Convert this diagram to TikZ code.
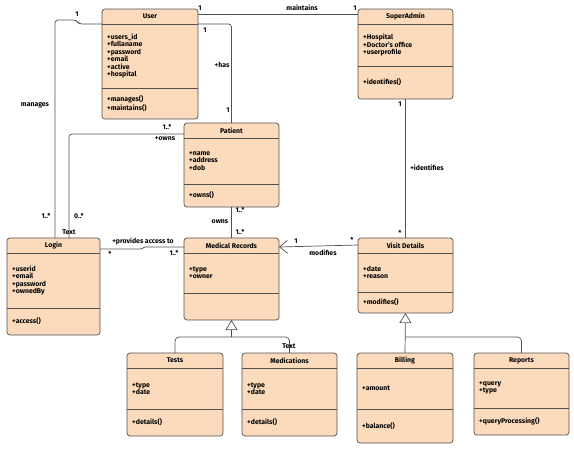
\documentclass[tikz,border=0pt]{standalone}
\usepackage{fontspec}
\setmainfont{Fira Sans}
\usetikzlibrary{arrows.meta}

\definecolor{peach}{RGB}{252,219,188}
\definecolor{edgegray}{RGB}{80,80,80}

\tikzset{
  classbox/.style={draw=edgegray, fill=peach, rounded corners=3pt, line width=0.7pt, inner sep=0pt, outer sep=0pt},
  classrule/.style={draw=edgegray, line width=0.7pt},
  classname/.style={font=\fontsize{6.9}{7.4}\selectfont\bfseries, inner sep=0pt},
  members/.style={font=\fontsize{6.9}{7.4}\selectfont\bfseries, align=left, anchor=west, inner sep=0pt, xshift=5pt},
  assoc/.style={draw=edgegray, line width=0.7pt},
  lbl/.style={font=\fontsize{6.9}{7.4}\selectfont\bfseries, inner sep=0pt},
  gen/.style={assoc, -{Triangle[open, length=10pt, width=12pt, fill=white]}},
  nav/.style={assoc, -{Straight Barb[length=8pt, width=13pt]}}
}

% #1 name, #2 top left, #3 width, #4 height, #5 second rule, #6 title, #7 attributes, #8 operations
\newcommand{\umlclass}[8]{%
  \node[classbox, minimum width=#3, minimum height=#4, anchor=north west] (#1) at (#2) {};
  \draw[classrule] ([yshift=-15pt]#1.north west) -- ([yshift=-15pt]#1.north east);
  \draw[classrule] ([yshift=-#5pt]#1.north west) -- ([yshift=-#5pt]#1.north east);
  \node[classname] (#1-name) at ([yshift=-7.5pt]#1.north) {#6};
  \path ([yshift=-15pt]#1.north west) -- ([yshift=-#5pt]#1.north west) node[midway, members] (#1-attr) {#7};
  \path ([yshift=-#5pt]#1.north west) -- (#1.south west) node[midway, members] (#1-ops) {#8};
}

\begin{document}
\begin{tikzpicture}[x=1pt, y=-1pt]
  \useasboundingbox (0,0) rectangle (574,448);

  % classes
  \umlclass{user}{102,9}{96}{110}{79}{User}
    {+users\_id\\+fullaname\\+password\\+email\\+active\\+hospital}{+manages()\\+maintains()}
  \umlclass{superadmin}{358,9}{95}{90}{57}{SuperAdmin}
    {+Hospital\\+Doctor's office\\+userprofile}{+identifies()}
  \umlclass{patient}{184,123}{95}{84}{61}{Patient}
    {+name\\+address\\+dob}{+owns()}
  \umlclass{login}{7,238}{93}{97}{70}{Login}
    {+userid\\+email\\+password\\+ownedBy}{+access()}
  \umlclass{records}{184,238}{95}{82}{55}{Medical Records}
    {+type\\+owner}{}
  \umlclass{visit}{358,238}{95}{75}{54}{Visit Details}
    {+date\\+reason}{+modifies()}
  \umlclass{tests}{127,353}{96}{83}{56}{Tests}
    {+type\\+date}{+details()}
  \umlclass{medications}{242,353}{95}{83}{56}{Medications}
    {+type\\+date}{+details()}
  \umlclass{billing}{357,353}{96}{90}{56}{Billing}
    {+amount}{+balance()}
  \umlclass{reports}{474,353}{95}{82}{55}{Reports}
    {+query\\+type}{+queryProcessing()}

  % associations
  \draw[assoc] ([yshift=-5pt]user.north east) -- ([yshift=-5pt]superadmin.north west);
  \draw[assoc, rounded corners=3pt] ([xshift=48pt]login.north west) -- (55,20) -- (76,20) -- (79,24) -- ([yshift=-15pt]user.north west);
  \draw[assoc, rounded corners=3pt] ([yshift=-15pt]user.north east) -| (patient.north);
  \draw[assoc, rounded corners=3pt] ([yshift=-11pt]patient.north west) -| ([xshift=62pt]login.north west);
  \draw[assoc] (patient.south) -- (records.north);
  \draw[assoc] ([yshift=-11pt]login.north east) -- (141,249) -- (145,247) -- ([yshift=-9pt]records.north west);
  \draw[nav] ([yshift=-7pt]visit.north west) -- ([yshift=-9pt]records.north east);
  \draw[assoc] (superadmin.south) -- (visit.north);

  % generalizations
  \draw[assoc, rounded corners=4pt] (tests.north) |- ([yshift=-17pt]records.south) -| (medications.north);
  \draw[gen] ([yshift=-17pt]records.south) -- (records.south);
  \draw[gen] (billing.north) -- (visit.south);
  \draw[assoc, rounded corners=4pt] ([yshift=-24pt]visit.south) -| (reports.north);

  % multiplicities and roles
  \node[lbl] (l1) at (200,8) {1};
  \node[lbl] (l2) at (302,8) {maintains};
  \node[lbl] (l3) at (355,8) {1};
  \node[lbl] (l4) at (77,14) {1};
  \node[lbl] (l5) at (35,105) {manages};
  \node[lbl] (l6) at (46,216) {1..*};
  \node[lbl] (l7) at (205,30) {1};
  \node[lbl] (l8) at (222,65) {+has};
  \node[lbl] (l9) at (228,110) {1};
  \node[lbl] (l10) at (167,127) {1..*};
  \node[lbl] (l11) at (165,139) {+owns};
  \node[lbl] (l12) at (79,216) {0..*};
  \node[lbl] (l13) at (69,232) {Text};
  \node[lbl] (l14) at (240,210) {1..*};
  \node[lbl] (l15) at (220,222) {owns};
  \node[lbl] (l16) at (240,232) {1..*};
  \node[lbl] (l17) at (143,241) {+provides access to};
  \node[lbl] (l18) at (110,254) {*};
  \node[lbl] (l19) at (174,253) {1..*};
  \node[lbl] (l20) at (296,241) {1};
  \node[lbl] (l21) at (323,253) {modifies};
  \node[lbl] (l22) at (352,240) {*};
  \node[lbl] (l23) at (400,104) {1};
  \node[lbl] (l24) at (427,168) {+identifies};
  \node[lbl] (l25) at (400,233) {*};
  \node[lbl] (l26) at (289,346) {Text};
\end{tikzpicture}
\end{document}
